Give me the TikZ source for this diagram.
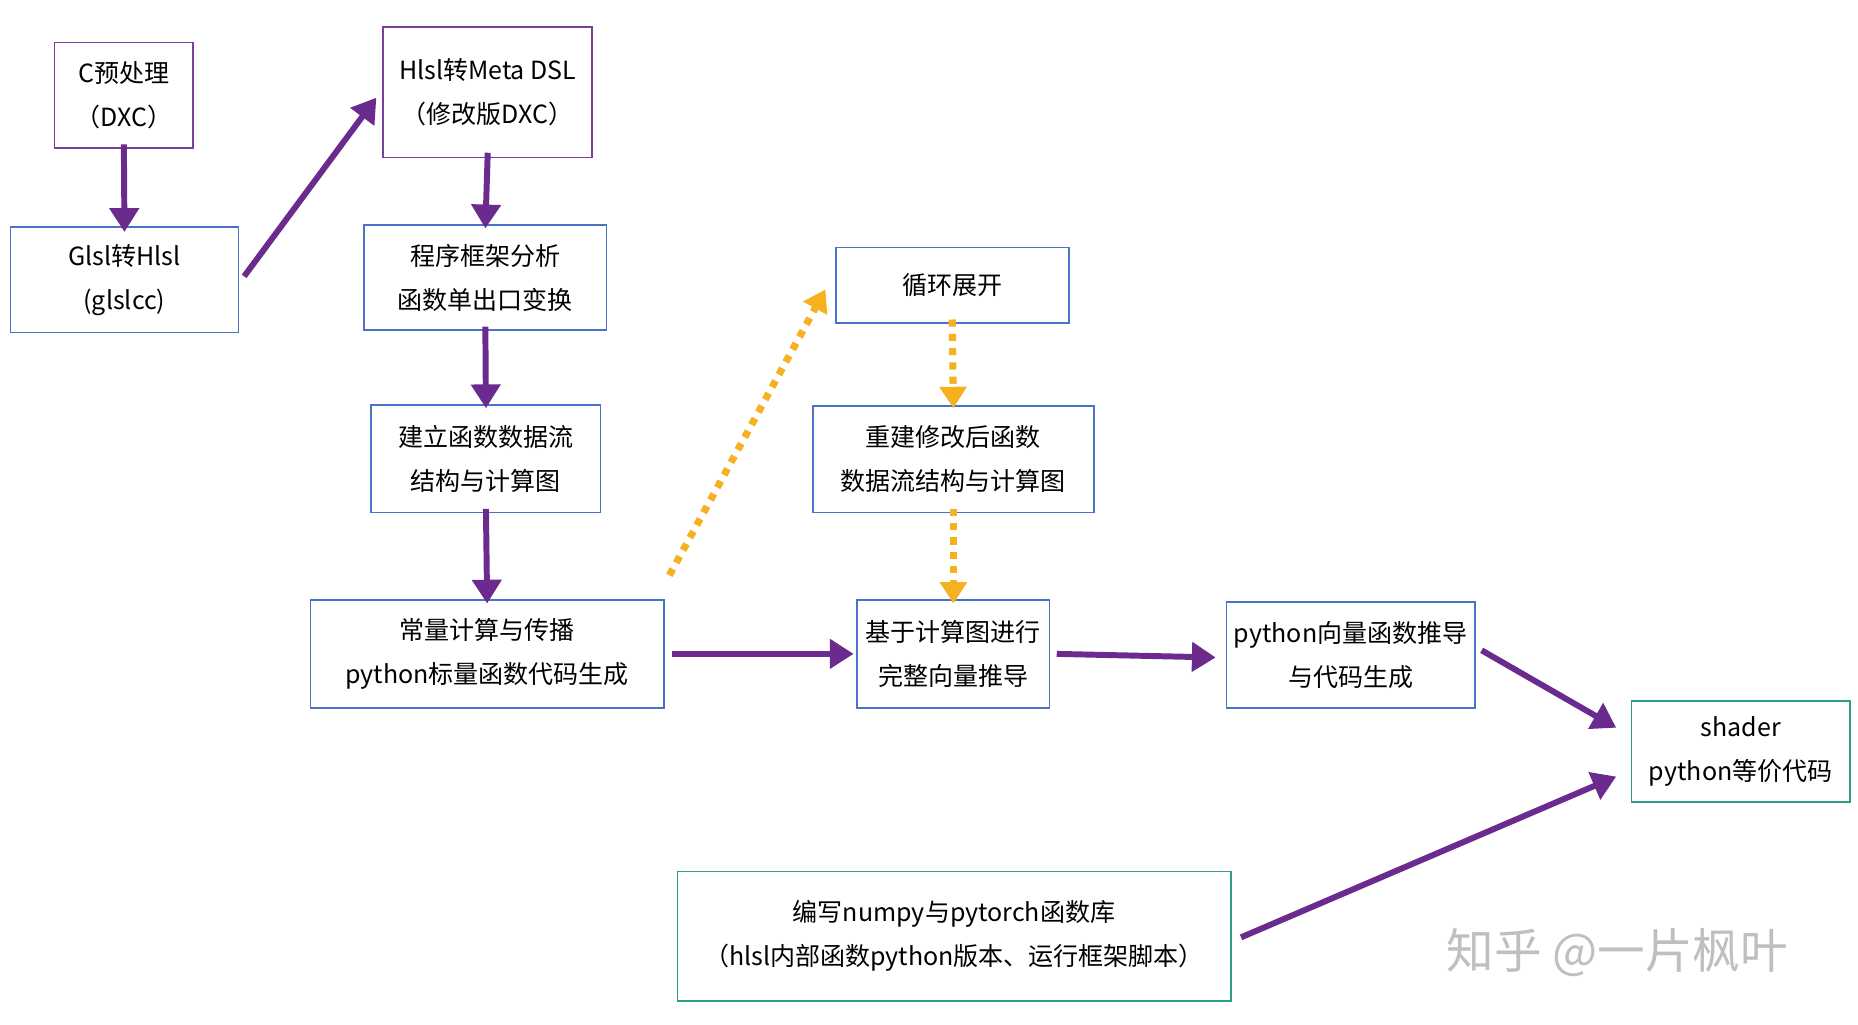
\documentclass[tikz,border=0pt]{standalone}
\usepackage{fontspec}
\setmainfont{Noto Sans CJK SC}
\usetikzlibrary{arrows.meta}
\definecolor{pb}{HTML}{7A3E9D}
\definecolor{bb}{HTML}{4A72C8}
\definecolor{tb}{HTML}{2E9E8A}
\definecolor{ar}{HTML}{6A2A8E}
\definecolor{og}{HTML}{F5B120}
\begin{document}
\begin{tikzpicture}[x=1pt,y=-1pt,
 box/.style={draw=#1,line width=1.5pt,fill=white,align=center,font=\fontsize{21}{37}\selectfont,inner sep=0pt,outer sep=0pt},
 arr/.style={ar,line width=5pt,-{Triangle[length=20pt,width=24pt]}},
 dot/.style={og,line width=6pt,dash pattern=on 6pt off 6pt,-{Triangle[length=18pt,width=22pt]}}]
\useasboundingbox (0,0) rectangle (1560,860);
\newcommand\bx[6]{\node[box=#1,minimum width={#4-#2-1.5},minimum height={#5-#3-1.5}] (#6) at ({(#2+#4)/2},{(#3+#5)/2})}
\bx{pb}{45}{35}{163}{125}{c} {C预处理\\（DXC）};
\bx{bb}{8}{190}{201}{280}{g} {Glsl转Hlsl\\(glslcc)};
\bx{pb}{321}{22}{498}{133}{h} {Hlsl转Meta DSL\\（修改版DXC）};
\bx{bb}{305}{188}{510}{278}{p} {程序框架分析\\函数单出口变换};
\bx{bb}{311}{339}{505}{431}{j} {建立函数数据流\\结构与计算图};
\bx{bb}{260}{503}{558}{595}{k} {常量计算与传播\\python标量函数代码生成};
\bx{bb}{701}{207}{898}{272}{x} {循环展开};
\bx{bb}{682}{340}{919}{431}{r} {重建修改后函数\\数据流结构与计算图};
\bx{bb}{719}{503}{882}{595}{v} {基于计算图进行\\完整向量推导};
\bx{bb}{1029}{505}{1239}{595}{py} {python向量函数推导\\与代码生成};
\bx{tb}{1369}{588}{1554}{674}{s} {shader\\python等价代码};
\bx{tb}{568}{731}{1034}{841}{n} {编写numpy与pytorch函数库\\（hlsl内部函数python版本、运行框架脚本）};
\coordinate (o1) at (562,483);
\coordinate (o2) at (693,243);
\coordinate (s1) at (1357,611);
\coordinate (s2) at (1357,652);
\coordinate (h1) at (316,82);
\coordinate (g1) at (205,232);
\coordinate (p1) at (1244,546);
\coordinate (n1) at (1042,787);
\draw[arr] ([yshift=3pt]c.south) -- ([yshift=-4pt]g.north);
\draw[arr] (g1) -- (h1);
\draw[arr] ([yshift=4pt]h.south) -- ([yshift=-3pt]p.north);
\draw[arr] ([yshift=3pt]p.south) -- ([yshift=-3pt]j.north);
\draw[arr] ([yshift=3pt]j.south) -- ([yshift=-3pt]k.north);
\draw[arr] ([xshift=7pt]k.east) -- ([xshift=-3pt]v.west);
\draw[arr] ([xshift=6pt]v.east) -- ([xshift=-9pt,yshift=-2pt]py.west);
\draw[arr] (p1) -- (s1);
\draw[arr] (n1) -- (s2);
\draw[dot] (o1) -- (o2);
\draw[dot] ([yshift=3pt]x.south) -- ([yshift=-2pt]r.north);
\draw[dot] ([yshift=3pt]r.south) -- ([yshift=-3pt]v.north);
\node[text=black!25,font=\fontsize{40}{42}\selectfont] (w) at (1358,800) {知乎 @一片枫叶};
\end{tikzpicture}
\end{document}
